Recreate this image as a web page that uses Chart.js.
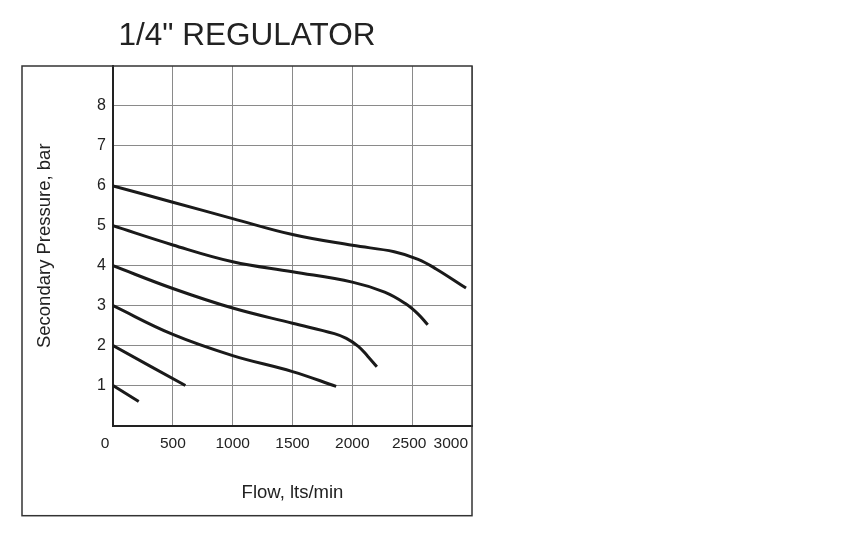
<!DOCTYPE html>
<html>
<head>
<meta charset="utf-8">
<script src="https://cdn.jsdelivr.net/npm/chart.js@4/dist/chart.umd.min.js"></script>
<style>
  html, body { margin: 0; padding: 0; background: #fff; }
  #wrap { width: 850px; height: 537px; }
</style>
</head>
<body>
<div id="wrap"><canvas id="chart"></canvas></div>
<script>
/* ================= DATA ================= */
const chartTitle = '1/4" REGULATOR';
const xTitle = "Flow, lts/min";
const yTitle = "Secondary Pressure, bar";

const xTickValues = [0, 500, 1000, 1500, 2000, 2500, 3000];
const xTickLabels = ["0", "500", "1000", "1500", "2000", "2500", "3000"];
const yTickValues = [1, 2, 3, 4, 5, 6, 7, 8];
const yTickLabels = ["1", "2", "3", "4", "5", "6", "7", "8"];

// one curve per set pressure (bar)
const flow6 = [0, 500, 1000, 1500, 2000, 2350, 2550, 2700, 2950];
const pres6 = [6.0, 5.59, 5.18, 4.78, 4.51, 4.35, 4.16, 3.92, 3.44];

const flow5 = [0, 500, 1000, 1500, 2000, 2270, 2440, 2550, 2630];
const pres5 = [5.0, 4.52, 4.1, 3.85, 3.59, 3.34, 3.06, 2.79, 2.52];

const flow4 = [0, 500, 1000, 1500, 1850, 1950, 2050, 2130, 2205];
const pres4 = [4.0, 3.43, 2.94, 2.56, 2.3, 2.18, 1.98, 1.73, 1.47];

const flow3 = [0, 500, 1000, 1500, 1865];
const pres3 = [3.0, 2.28, 1.75, 1.35, 0.98];

const flow2 = [0, 605];
const pres2 = [2.0, 1.0];

const flow1 = [0, 215];
const pres1 = [1.0, 0.6];

/* ================= HELPERS ================= */
const FONT = "'Liberation Sans', Arial, sans-serif";
const INK = "#222";

function curve(xs, ys) {
  return {
    data: xs.map((x, i) => ({ x, y: ys[i] })),
    showLine: true,
    borderColor: "#1a1a1a",
    borderWidth: 3,
    pointRadius: 0,
    tension: 0.4,
    fill: false
  };
}

/* outer frame + custom x tick labels */
const framePlugin = {
  id: "frame",
  afterDraw(chart) {
    const ctx = chart.ctx;
    const xs = chart.scales.x, ys = chart.scales.y;
    const area = chart.chartArea;
    ctx.save();
    ctx.strokeStyle = "#333";
    ctx.lineWidth = 1.5;
    ctx.strokeRect(ys.left, area.top, area.right - ys.left, xs.bottom - area.top);

    ctx.fillStyle = INK;
    ctx.font = "15.5px " + FONT;
    ctx.textBaseline = "alphabetic";
    const last = xTickValues.length - 1;
    xTickValues.forEach((v, i) => {
      let px = xs.getPixelForValue(v);
      ctx.textAlign = "center";
      if (i === 0) px -= 8;
      if (i === last - 1) px -= 3;
      if (i === last) { ctx.textAlign = "right"; px -= 4; }
      ctx.fillText(xTickLabels[i], px, area.bottom + 22.5);
    });
    ctx.restore();
  }
};

/* ================= CHART ================= */
new Chart(document.getElementById("chart"), {
  type: "scatter",
  data: {
    datasets: [
      curve(flow6, pres6),
      curve(flow5, pres5),
      curve(flow4, pres4),
      curve(flow3, pres3),
      curve(flow2, pres2),
      curve(flow1, pres1)
    ]
  },
  options: {
    responsive: true,
    maintainAspectRatio: false,
    animation: false,
    layout: { padding: { left: 22, right: 378, top: 0, bottom: 21.3 } },
    plugins: {
      legend: { display: false },
      tooltip: { enabled: false },
      title: {
        display: true,
        text: chartTitle,
        color: INK,
        font: { family: FONT, size: 31.5, weight: "normal", lineHeight: 1.2 },
        padding: { top: 17, bottom: 11.2 }
      }
    },
    scales: {
      x: {
        type: "linear",
        min: 0,
        max: 3000,
        afterBuildTicks: s => { s.ticks = xTickValues.map(v => ({ value: v })); },
        afterFit: s => { s.height = 90.2; },
        ticks: { display: false },
        grid: { color: "#8a8a8a", lineWidth: 1, drawTicks: false },
        border: { color: INK, width: 2 },
        title: {
          display: true,
          text: xTitle,
          color: INK,
          font: { family: FONT, size: 18.5, lineHeight: 1.2 },
          padding: { top: 0, bottom: 11.5 }
        }
      },
      y: {
        type: "linear",
        min: 0,
        max: 9,
        afterBuildTicks: s => { s.ticks = yTickValues.map(v => ({ value: v })); },
        afterFit: s => { s.width = 91; },
        ticks: {
          color: INK,
          padding: 7,
          font: { family: FONT, size: 16 },
          callback: v => yTickLabels[yTickValues.indexOf(v)]
        },
        grid: { color: "#8a8a8a", lineWidth: 1, drawTicks: false },
        border: { color: INK, width: 2 },
        title: {
          display: true,
          text: yTitle,
          color: INK,
          font: { family: FONT, size: 18.5, lineHeight: 1.2 },
          padding: { top: 12, bottom: 0 }
        }
      }
    }
  },
  plugins: [framePlugin]
});
</script>
</body>
</html>
